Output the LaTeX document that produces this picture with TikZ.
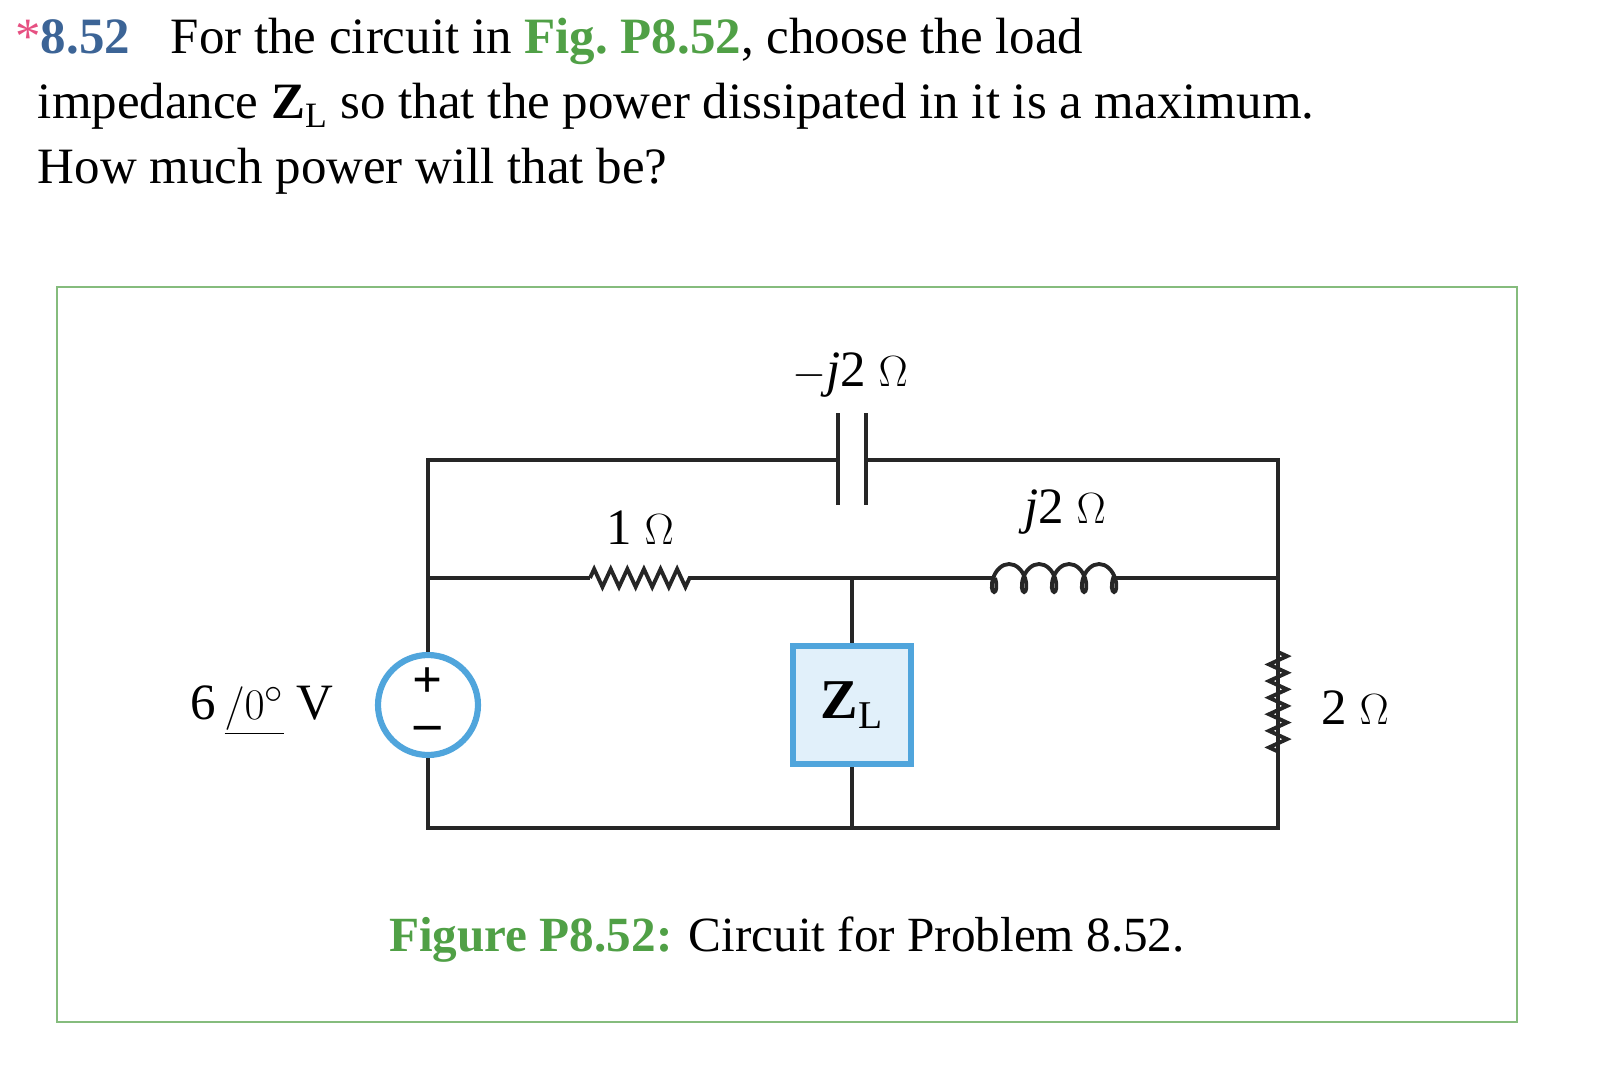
\documentclass[tikz,border=0pt]{standalone}
\usepackage{fontspec}
\setmainfont{Liberation Serif}
\usetikzlibrary{decorations.pathmorphing}
\definecolor{tgreen}{RGB}{80,160,70}
\definecolor{tblue}{RGB}{60,100,150}
\definecolor{tpink}{RGB}{230,80,130}
\definecolor{cblue}{RGB}{80,165,220}
\definecolor{cfill}{RGB}{225,240,250}
\begin{document}
\begin{tikzpicture}[x=0.02cm,y=-0.02cm,
  wire/.style={line width=2.2pt,black!85},
  lbl/.style={font=\fontsize{29}{34}\selectfont},
  res/.style={wire,decorate,decoration={zigzag,segment length=0.332cm,amplitude=0.18cm}}]
\useasboundingbox (0,0) rectangle (1605,1084);
\node[anchor=north west,inner sep=0,text width=29.9cm,align=justify,font=\fontsize{29}{37}\selectfont] (txt) at (15,18)
 {\textcolor{tpink}{*}\textcolor{tblue}{\textbf{8.52}}\hspace{0.8em}For the circuit in \textcolor{tgreen}{\textbf{Fig.\ P8.52}}, choose the load\\
 \hspace*{0.45cm}impedance $\mathbf{Z}_{\mathrm{L}}$ so that the power dissipated in it is a maximum.\\
 \hspace*{0.45cm}How much power will that be?\par};
\draw[tgreen!70,line width=1.3pt] (57,287) rectangle (1517,1022);
\coordinate (tl) at (428,460); \coordinate (tr) at (1278,460);
\coordinate (ml) at (428,578); \coordinate (mr) at (1278,578);
\coordinate (bl) at (428,828); \coordinate (br) at (1278,828);
\coordinate (mc) at (852,578); \coordinate (bc) at (852,828);
\coordinate (c1) at (838,460); \coordinate (c2) at (866,460);
\coordinate (r1a) at (590,578); \coordinate (r1b) at (690,578);
\coordinate (la) at (995,578); \coordinate (lb) at (1132,578);
\coordinate (r2a) at (1278,652); \coordinate (r2b) at (1278,758);
\node[circle,draw=cblue,line width=3.5pt,minimum size=2cm,inner sep=0] (src) at (428,705) {};
\node[font=\fontsize{30}{30}\selectfont\bfseries] at (428,683) {+};
\node[font=\fontsize{30}{30}\selectfont\bfseries] at (428,733) {--};
\node[draw=cblue,fill=cfill,line width=3.5pt,minimum size=2.36cm,inner sep=0] (zl) at (852,705)
  {\fontsize{32}{32}\selectfont$\mathbf{Z}_{\mathrm{L}}$};
\draw[wire] (src.north) -- (tl) -- (c1);
\draw[wire] (c2) -- (tr) -- (br) -- (bl) -- (src.south);
\draw[wire] (838,413) -- (838,505);
\draw[wire] (866,413) -- (866,505);
\draw[wire] (ml) -- (r1a);
\draw[res] (r1a) -- (r1b);
\draw[wire] (r1b) -- (mc) -- (la);
\draw[wire,decorate,decoration={coil,aspect=0.6,segment length=0.6cm,amplitude=-0.28cm}] (la) -- (lb);
\draw[wire] (lb) -- (mr);
\draw[wire] (mc) -- (zl.north);
\draw[wire] (zl.south) -- (bc);
\draw[wire] (mr) -- (r2a);
\draw[res] (r2a) -- (r2b);
\draw[wire] (r2b) -- (br);
\node[lbl] (lc) at (850,375) {$-$\textit{j}2 $\Omega$};
\node[lbl] (l1) at (640,528) {1 $\Omega$};
\node[lbl] (l2) at (1065,512) {\textit{j}2 $\Omega$};
\node[lbl] (l3) at (1355,708) {2 $\Omega$};
\node[lbl] (lv) at (262,710) {6\,$\underline{/0^{\circ}}$ V};
\node[font=\fontsize{28}{34}\selectfont] (cap) at (787,940) {\textcolor{tgreen}{\textbf{Figure P8.52:}} Circuit for Problem 8.52.};
\end{tikzpicture}
\end{document}
